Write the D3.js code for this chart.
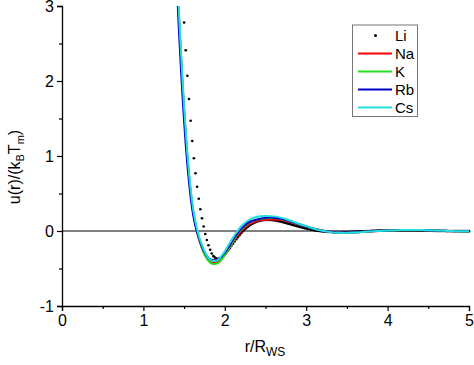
<!DOCTYPE html>
<html><head><meta charset="utf-8">
<script src="https://cdn.jsdelivr.net/npm/d3@7"></script>
<style>body{margin:0;background:#fff}svg{display:block}text{font-family:"Liberation Sans",Arial,sans-serif}</style>
</head><body>
<svg id="c" width="474" height="365"></svg>
<script>
// ---- data ----
const series = ["Li", "Na", "K", "Rb", "Cs"];
const colors = ["#000000", "#ff0000", "#22dd22", "#0000c8", "#22dddd"];
const xTicks = [0, 1, 2, 3, 4, 5];
const yTicks = [-1, 0, 1, 2, 3];
const xMinor = [0.5, 1.5, 2.5, 3.5, 4.5];
const yMinor = [-0.5, 0.5, 1.5, 2.5];

const rGrid = [1.42,1.44,1.46,1.48,1.50,1.52,1.54,1.56,1.58,1.60,1.62,1.65,1.68,1.72,1.76,1.80,1.84,1.88,1.92,1.96,2.00,2.05,2.10,2.15,2.20,2.30,2.40,2.50,2.60,2.70,2.80,2.90,3.00,3.10,3.20,3.30,3.40,3.50,3.60,3.70,3.80,3.90,4.00,4.10,4.20,4.30,4.40,4.50,4.60,4.70,4.80,4.90,5.00];
const uNa = [3.22,2.78,2.36,1.97,1.61,1.28,0.99,0.74,0.53,0.35,0.20,0.03,-0.10,-0.23,-0.33,-0.39,-0.42,-0.425,-0.41,-0.375,-0.32,-0.24,-0.15,-0.07,0.0,0.09,0.135,0.15,0.152,0.145,0.12,0.09,0.06,0.03,0.008,-0.008,-0.017,-0.02,-0.017,-0.011,-0.005,0,0.004,0.007,0.009,0.01,0.009,0.007,0.004,0.002,0,-0.001,-0.002];
const uK  = [3.25,2.80,2.38,1.99,1.63,1.30,1.01,0.76,0.54,0.36,0.21,0.04,-0.09,-0.23,-0.33,-0.40,-0.435,-0.44,-0.425,-0.38,-0.32,-0.23,-0.14,-0.05,0.02,0.11,0.155,0.17,0.172,0.16,0.13,0.095,0.06,0.03,0.005,-0.012,-0.02,-0.022,-0.018,-0.011,-0.004,0.001,0.005,0.008,0.01,0.011,0.01,0.008,0.005,0.002,0,-0.002,-0.003];
const uRb = [3.05,2.60,2.18,1.80,1.46,1.15,0.88,0.65,0.45,0.29,0.16,0.02,-0.09,-0.21,-0.30,-0.36,-0.385,-0.39,-0.375,-0.34,-0.29,-0.21,-0.12,-0.04,0.03,0.12,0.155,0.175,0.178,0.162,0.13,0.095,0.06,0.028,0.003,-0.012,-0.02,-0.021,-0.017,-0.01,-0.003,0.002,0.006,0.009,0.011,0.011,0.01,0.008,0.005,0.002,0,-0.002,-0.003];
const uCs = [3.30,2.85,2.42,2.02,1.66,1.33,1.03,0.78,0.56,0.38,0.23,0.07,-0.06,-0.19,-0.29,-0.36,-0.395,-0.40,-0.38,-0.33,-0.27,-0.18,-0.09,-0.01,0.06,0.15,0.19,0.20,0.195,0.175,0.14,0.10,0.065,0.03,0.002,-0.015,-0.024,-0.025,-0.02,-0.012,-0.005,0.001,0.006,0.01,0.013,0.014,0.013,0.01,0.006,0.002,-0.001,-0.003,-0.004];

const liR = [1.50,1.52,1.54,1.56,1.58,1.60,1.62,1.64,1.66,1.68,1.70,1.72,1.74,1.76,1.78,1.80,1.82,1.84,1.86,1.88,1.90,1.92,1.94,1.96,1.98,2.00,2.02,2.04,2.06,2.08,2.10,2.12,2.14,2.16,2.18,2.20,2.22,2.24,2.26,2.28,2.30,2.32,2.34,2.36,2.38,2.40,2.42,2.44,2.46,2.48,2.50,2.52,2.54,2.56,2.58,2.60,2.62,2.64,2.66,2.68,2.70,2.72,2.74,2.76,2.78,2.80,2.82,2.84,2.86,2.88,2.90,2.92,2.94,2.96,2.98,3.00,3.02,3.04,3.06,3.08,3.10,3.12,3.14,3.16,3.18,3.20,3.22,3.24,3.26,3.28,3.30,3.32,3.34,3.36,3.38,3.40,3.42,3.44,3.46,3.48,3.50,3.52,3.54,3.56,3.58,3.60,3.62,3.64,3.66,3.68,3.70,3.72,3.74,3.76,3.78,3.80,3.82,3.84,3.86,3.88,3.90,3.92,3.94,3.96,3.98,4.00,4.02,4.04,4.06,4.08,4.10,4.12,4.14,4.16,4.18,4.20,4.22,4.24,4.26,4.28,4.30,4.32,4.34,4.36,4.38,4.40,4.42,4.44,4.46,4.48,4.50,4.52,4.54,4.56,4.58,4.60,4.62,4.64,4.66,4.68,4.70,4.72,4.74,4.76,4.78,4.80,4.82,4.84,4.86,4.88,4.90,4.92,4.94,4.96,4.98,5.00];
const liU = [2.78,2.41,2.07,1.76,1.47,1.20,0.97,0.77,0.59,0.43,0.29,0.17,0.06,-0.04,-0.12,-0.19,-0.25,-0.30,-0.335,-0.355,-0.368,-0.37,-0.365,-0.352,-0.333,-0.31,-0.285,-0.258,-0.23,-0.20,-0.17,-0.14,-0.11,-0.082,-0.055,-0.03,-0.006,0.016,0.036,0.054,0.07,0.085,0.098,0.109,0.119,0.127,0.134,0.139,0.143,0.146,0.148,0.149,0.149,0.148,0.146,0.143,0.140,0.136,0.132,0.127,0.122,0.116,0.110,0.104,0.098,0.092,0.086,0.079,0.073,0.067,0.061,0.055,0.049,0.043,0.038,0.033,0.028,0.023,0.018,0.014,0.010,0.006,0.003,0.000,-0.003,-0.005,-0.007,-0.009,-0.011,-0.012,-0.013,-0.014,-0.015,-0.015,-0.016,-0.016,-0.016,-0.016,-0.015,-0.015,-0.014,-0.013,-0.012,-0.011,-0.010,-0.009,-0.008,-0.007,-0.006,-0.005,-0.004,-0.003,-0.002,-0.001,0.000,0.001,0.002,0.003,0.004,0.004,0.005,0.005,0.006,0.006,0.007,0.007,0.007,0.008,0.008,0.008,0.008,0.008,0.008,0.008,0.008,0.008,0.008,0.008,0.007,0.007,0.007,0.007,0.006,0.006,0.006,0.005,0.005,0.005,0.004,0.004,0.003,0.003,0.003,0.002,0.002,0.001,0.001,0.001,0.000,0.000,0.000,-0.001,-0.001,-0.001,-0.001,-0.002,-0.002,-0.002,-0.002,-0.002,-0.002,-0.002,-0.002,-0.002,-0.002,-0.002];

// ---- chart ----
const svg = d3.select("#c");
const L = 62, R = 469, T = 6, B = 306;
const x = d3.scaleLinear().domain([0, 5]).range([L, R]);
const y = d3.scaleLinear().domain([-1, 3]).range([B, T]);

svg.append("defs").append("clipPath").attr("id", "clip")
  .append("rect").attr("x", L).attr("y", T).attr("width", R - L + 2).attr("height", B - T);

// zero line
svg.append("line").attr("x1", x(0)).attr("x2", x(5)).attr("y1", y(0)).attr("y2", y(0))
  .attr("stroke", "#000").attr("stroke-width", 1.2);

const g = svg.append("g").attr("clip-path", "url(#clip)");
// Li dots
g.selectAll("circle.li").data(liR.map((r, i) => [r, liU[i]])).enter().append("circle")
  .attr("cx", d => x(d[0])).attr("cy", d => y(d[1])).attr("r", 1.35).attr("fill", "#000");

const line = d3.line().x(d => x(d[0])).y(d => y(d[1])).curve(d3.curveCatmullRom);
const curves = [uNa, uK, uRb, uCs];
curves.forEach((u, i) => {
  g.append("path").datum(rGrid.map((r, j) => [r, u[j]]))
    .attr("d", line).attr("fill", "none").attr("stroke", colors[i + 1]).attr("stroke-width", 2);
});

// axes
const fs = "16px";
const fmt = d => String(d);
const xAxis = svg.append("g").attr("transform", `translate(0,${B})`)
  .call(d3.axisBottom(x).tickValues(xTicks).tickSize(5).tickPadding(4).tickFormat(fmt));
const xMin = svg.append("g").attr("transform", `translate(0,${B})`)
  .call(d3.axisBottom(x).tickValues(xMinor).tickSize(3).tickFormat(""));
const yAxis = svg.append("g").attr("transform", `translate(${L},0)`)
  .call(d3.axisLeft(y).tickValues(yTicks).tickSize(5).tickPadding(3).tickFormat(fmt));
const yMin = svg.append("g").attr("transform", `translate(${L},0)`)
  .call(d3.axisLeft(y).tickValues(yMinor).tickSize(3).tickFormat(""));
[xAxis, xMin, yAxis, yMin].forEach(a => {
  a.select(".domain").attr("stroke", "#000").attr("stroke-width", 1.3);
  a.selectAll(".tick line").attr("stroke", "#000").attr("stroke-width", 1.2);
  a.selectAll("text").attr("font-size", fs).attr("fill", "#000")
    .attr("font-family", '"Liberation Sans", Arial, sans-serif');
});
xMin.select(".domain").remove(); yMin.select(".domain").remove();
yAxis.selectAll("text").attr("text-anchor", "end");
xAxis.selectAll(".tick text").attr("dy", "0.71em");

// axis titles
const xt = svg.append("text").attr("x", 265).attr("y", 352).attr("text-anchor", "middle").attr("font-size", "16px");
xt.append("tspan").text("r/R");
xt.append("tspan").attr("font-size", "12px").attr("dy", 4).text("WS");

const yt = svg.append("text").attr("transform", "translate(20,167) rotate(-90)")
  .attr("text-anchor", "middle").attr("font-size", "16px");
yt.append("tspan").text("u(r)/(k");
yt.append("tspan").attr("font-size", "11px").attr("dy", 4).text("B");
yt.append("tspan").attr("dy", -4).text("T");
yt.append("tspan").attr("font-size", "11px").attr("dy", 4).text("m");
yt.append("tspan").attr("dy", -4).text(")");

// legend
const lg = svg.append("g");
lg.append("rect").attr("x", 352.5).attr("y", 25).attr("width", 65).attr("height", 91.5)
  .attr("fill", "#fff").attr("stroke", "#777").attr("stroke-width", 1);
series.forEach((s, i) => {
  const yy = 35.5 + i * 18;
  if (i === 0) {
    lg.append("circle").attr("cx", 375.5).attr("cy", yy).attr("r", 1.5).attr("fill", "#000");
  } else {
    lg.append("line").attr("x1", 358).attr("x2", 392).attr("y1", yy).attr("y2", yy)
      .attr("stroke", colors[i]).attr("stroke-width", 2);
  }
  lg.append("text").attr("x", 395).attr("y", yy).attr("dy", "0.36em").attr("font-size", "15px").text(s);
});
</script>
</body></html>
